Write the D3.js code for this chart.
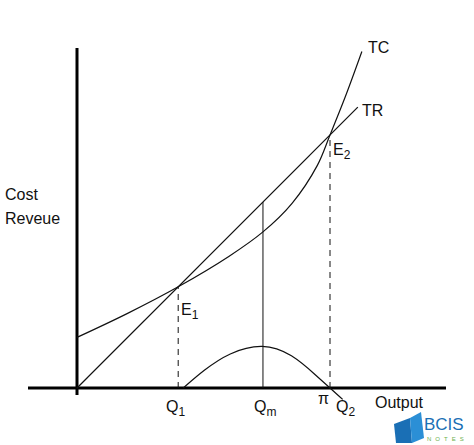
<!DOCTYPE html><html><head><meta charset="utf-8"><script src="https://cdn.jsdelivr.net/npm/d3@7"></script>
<style>body{margin:0;background:#fff}text{font-family:"Liberation Sans",Arial,sans-serif;font-size:16px;fill:#111}</style></head><body><svg width="474" height="445"></svg><script>
const trQ=[0,11.1], trV=[0,11.1];
const tcQ=[0,2,4,6,7.35,8.5,9.5,10,10.6,11.26], tcV=[2,2.95,4,5.2,6.17,7.3,8.8,10,11.5,13.3];
const prQ=[4.2,5,6,7.35,8.5,9.5,10,10.5], prV=[0,0.7,1.4,1.78,1.35,0.45,0,-0.45];
const Q1=4,Qm=7.35,Q2=10;
const svg=d3.select("svg");
const x=d3.scaleLinear().domain([0,10]).range([77,330]);
const y=d3.scaleLinear().domain([0,10]).range([388,135]);
const py=d3.scaleLinear().domain([0,1.78]).range([388,343]);
const line=(q,v,ys,c)=>svg.append("path").attr("d",d3.line().x(d=>x(d[0])).y(d=>ys(d[1])).curve(c||d3.curveLinear)(q.map((d,i)=>[d,v[i]]))).attr("fill","none").attr("stroke","#111").attr("stroke-width",1.2);
svg.append("line").attr("x1",77).attr("x2",77).attr("y1",48).attr("y2",395).attr("stroke","#000").attr("stroke-width",3);
svg.append("line").attr("x1",28).attr("x2",446).attr("y1",388).attr("y2",388).attr("stroke","#000").attr("stroke-width",3);
line(trQ,trV,y);
line(tcQ,tcV,y,d3.curveCatmullRom);
line(prQ,prV,py,d3.curveBasis);
svg.append("line").attr("x1",x(Qm)).attr("x2",x(Qm)).attr("y1",y(0)).attr("y2",y(Qm)).attr("stroke","#111");
[Q1,Q2].forEach(q=>svg.append("line").attr("x1",x(q)).attr("x2",x(q)).attr("y1",y(0)).attr("y2",y(q)).attr("stroke","#111").attr("stroke-dasharray","6,5"));
const t=(s,xx,yy,sub)=>{const e=svg.append("text").attr("x",xx).attr("y",yy).text(s);if(sub)e.append("tspan").attr("dy",4).style("font-size","12px").text(sub);};
t("TC",368,53);t("TR",362,116);t("E",333,155,"2");t("E",181,315,"1");
t("Cost",5,200);t("Reveue",5,224);
t("Q",166,412,"1");t("Q",254,412,"m");t("π",318,404);t("Q",336,412,"2");t("Output",375,408);
const lg=svg.append("g");
lg.append("path").attr("d","M394,424 L410,418 L412,443 L396,443 Z").attr("fill","#1a6fb5");
lg.append("path").attr("d","M410,418 L421,412 L424,438 L412,443 Z").attr("fill","#2b8fd6");
lg.append("text").attr("x",424).attr("y",430).style("font-size","17px").style("fill","#1a6fb5").text("BCIS");
lg.append("text").attr("x",427).attr("y",441).style("font-size","6px").style("fill","#6ab04c").style("letter-spacing","4px").text("NOTES");
</script></body></html>
